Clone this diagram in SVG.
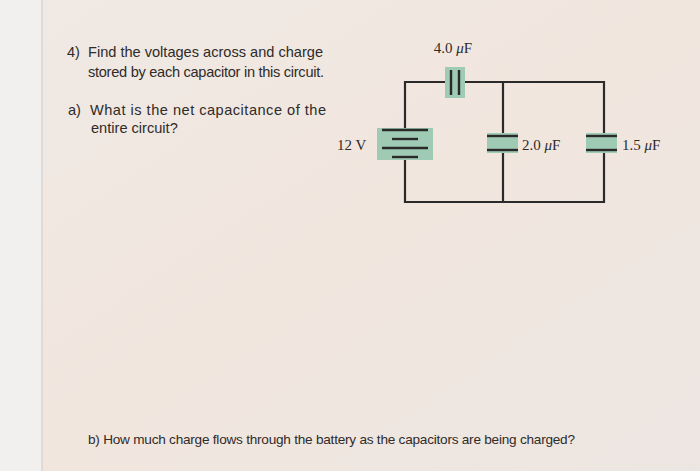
<svg xmlns="http://www.w3.org/2000/svg" width="700" height="471" viewBox="0 0 700 471">
<style>
.t{font-family:"Liberation Sans",Arial,sans-serif;font-size:13.6px;fill:#2f2b29}
.u{font-size:14.6px}
.s{font-family:"Liberation Serif","Times New Roman",serif;font-size:15px;fill:#2e2c2a}
.w{stroke:#2a2a2a;stroke-width:2.2;fill:none}
.g{fill:#9fcbb4}
.p{stroke:#2a2a2a;stroke-width:2.4}
</style>
<defs>
<linearGradient id="bg" x1="0" y1="0" x2="1" y2="1">
<stop offset="0" stop-color="#efe9e4"/><stop offset="0.5" stop-color="#f1e6de"/><stop offset="1" stop-color="#ece6e2"/>
</linearGradient>
</defs>
<rect width="700" height="471" fill="url(#bg)"/>
<rect width="42" height="471" fill="#f2f0ee"/>
<line x1="42" y1="0" x2="42" y2="471" stroke="#d8d4d0" stroke-width="1.5"/>
<g id="text">
<text class="t u" x="67" y="57">4)</text>
<text class="t u" x="88" y="57" textLength="235">Find the voltages across and charge</text>
<text class="t u" x="88" y="77" textLength="236">stored by each capacitor in this circuit.</text>
<text class="t u" x="68" y="115">a)</text>
<text class="t u" x="90" y="115" textLength="236">What is the net capacitance of the</text>
<text class="t u" x="91" y="133">entire circuit?</text>
<text class="t" x="88" y="444" textLength="487">b)  How much charge flows through the battery as the capacitors are being charged?</text>
</g>
<g id="connectors">
<polyline class="w" points="405,128 405,82 451,82"/>
<polyline class="w" points="459,82 604,82 604,133"/>
<line class="w" x1="503" y1="82" x2="503" y2="136"/>
<polyline class="w" points="405,157 405,202 604,202 604,150"/>
<line class="w" x1="503" y1="150" x2="503" y2="202"/>
</g>
<g id="c4">
<rect class="g" x="445" y="67" width="20" height="31"/>
<line class="p" x1="451" y1="70" x2="451" y2="95"/>
<line class="p" x1="459" y1="70" x2="459" y2="95"/>
<text class="s" x="453" y="53" text-anchor="middle">4.0 <tspan font-style="italic">μ</tspan>F</text>
</g>
<g id="battery">
<rect class="g" x="377" y="128" width="56" height="32"/>
<line class="p" x1="382" y1="130" x2="428" y2="130"/>
<line class="p" x1="392" y1="139" x2="418" y2="139"/>
<line class="p" x1="382" y1="148" x2="428" y2="148"/>
<line class="p" x1="392" y1="157" x2="418" y2="157"/>
<text class="s" x="337" y="150">12 V</text>
</g>
<g id="c2">
<rect class="g" x="487" y="133" width="31" height="20"/>
<line class="p" x1="487" y1="136" x2="518" y2="136"/>
<line class="p" x1="487" y1="150" x2="518" y2="150"/>
<text class="s" x="522" y="150">2.0 <tspan font-style="italic">μ</tspan>F</text>
</g>
<g id="c15">
<rect class="g" x="586" y="133" width="31" height="20"/>
<line class="p" x1="586" y1="136" x2="617" y2="136"/>
<line class="p" x1="586" y1="150" x2="617" y2="150"/>
<text class="s" x="622" y="150">1.5 <tspan font-style="italic">μ</tspan>F</text>
</g>
</svg>
